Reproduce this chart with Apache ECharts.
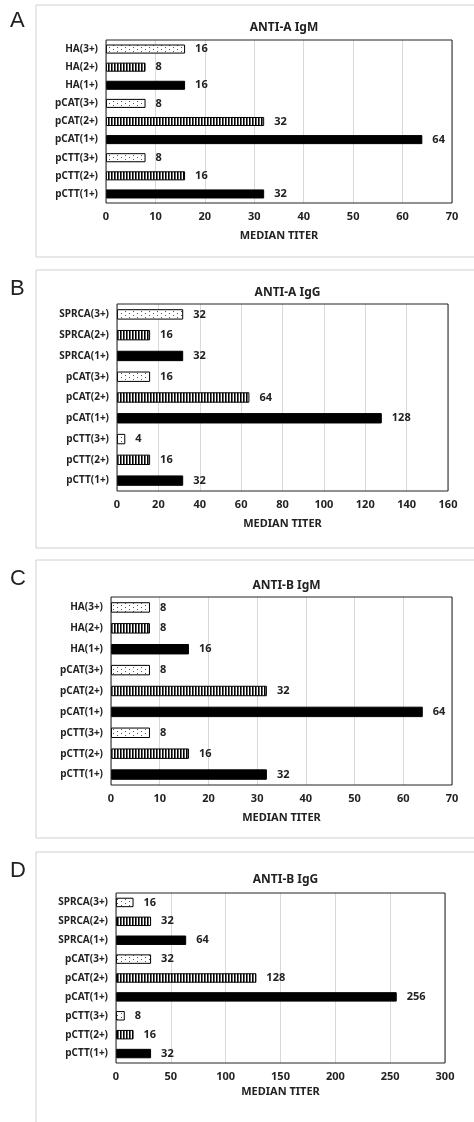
<!DOCTYPE html>
<html><head><meta charset="utf-8">
<script src="https://cdn.jsdelivr.net/npm/echarts@6/dist/echarts.min.js"></script>
<style>html,body{margin:0;padding:0;background:#fff}#c{width:474px;height:1122px}</style>
</head><body><div id="c"></div>
<script>
var titles = ['ANTI-A IgM','ANTI-A IgG','ANTI-B IgM','ANTI-B IgG'];
var letters = ['A','B','C','D'];
var catsA = ['pCTT(1+)','pCTT(2+)','pCTT(3+)','pCAT(1+)','pCAT(2+)','pCAT(3+)','HA(1+)','HA(2+)','HA(3+)'];
var catsB = ['pCTT(1+)','pCTT(2+)','pCTT(3+)','pCAT(1+)','pCAT(2+)','pCAT(3+)','SPRCA(1+)','SPRCA(2+)','SPRCA(3+)'];
var valsA = [32,16,8,64,32,8,16,8,16];
var valsB = [32,16,4,128,64,16,32,16,32];
var valsC = [32,16,8,64,32,8,16,8,8];
var valsD = [32,16,8,256,128,32,64,32,16];
var xMax = [70,160,70,300];
var xInt = [10,20,10,50];

function pat(type){
  var c=document.createElement('canvas');
  var ctx=c.getContext('2d');
  if(type===2){c.width=3;c.height=10;ctx.fillStyle='#fff';ctx.fillRect(0,0,3,10);ctx.fillStyle='#000';ctx.fillRect(0,0,1.6,10);}
  else {c.width=8;c.height=4;ctx.fillStyle='#fff';ctx.fillRect(0,0,8,4);ctx.fillStyle='#555';ctx.fillRect(1,1,1,1);ctx.fillRect(5,3,1,1);}
  return {image:c,repeat:'repeat'};
}
var p2=pat(2), p3=pat(3);
var grids=[{left:106,right:22,top:40,height:163},{left:117,right:26,top:304,height:187},{left:111,right:22,top:597,height:188},{left:116,right:29,top:893,height:170}];
var boxes=[[36,5,445,252],[36,270,445,278],[36,560,445,278],[36,852,445,275]];
var titleY=[17,282,575,869];
var cats=[catsA,catsB,catsA,catsB], vals=[valsA,valsB,valsC,valsD];
var font='"Noto Sans", sans-serif';
var opt={animation:false,grid:grids,xAxis:[],yAxis:[],series:[],title:[],graphic:[]};
for(var i=0;i<4;i++){
  opt.xAxis.push({gridIndex:i,type:'value',min:0,max:xMax[i],interval:xInt[i],name:'MEDIAN TITER',nameLocation:'middle',nameGap:i==3?23:27,
    nameTextStyle:{fontFamily:font,fontWeight:'bold',fontSize:11,color:'#222'},
    axisLine:{show:false},axisTick:{show:false},axisLabel:{fontFamily:font,fontWeight:'bold',fontSize:11,color:'#222',margin:8},
    splitLine:{lineStyle:{color:'#d9d9d9',width:1}}});
  opt.yAxis.push({gridIndex:i,type:'category',data:cats[i],axisTick:{show:false},axisLine:{show:false},
    axisLabel:{fontFamily:font,fontWeight:'bold',fontSize:10,color:'#222',margin:8}});
  var d=vals[i].map(function(v,k){var t=k%3;return {value:v,itemStyle:{color:t===0?'#000':(t===1?p2:p3),borderColor:'#000',borderWidth:1}};});
  opt.series.push({type:'bar',xAxisIndex:i,yAxisIndex:i,data:d,barWidth:'50%',
    label:{show:true,position:'right',distance:10,fontFamily:font,fontWeight:'bold',fontSize:11,color:'#222'}});
  opt.title.push({text:titles[i],left:grids[i].left+ (474-grids[i].left-grids[i].right)/2,textAlign:'center',top:titleY[i],textStyle:{fontFamily:font,fontWeight:'bold',fontSize:12,color:'#222'}});
  var b=boxes[i];
  opt.graphic.push({type:'rect',shape:{x:b[0],y:b[1],width:b[2],height:b[3]},style:{fill:'none',stroke:'#d0d0d0',lineWidth:1},z:-1});
  opt.graphic.push({type:'rect',shape:{x:grids[i].left,y:grids[i].top,width:474-grids[i].left-grids[i].right,height:grids[i].height},style:{fill:'none',stroke:'#222',lineWidth:1},z:10});
  opt.graphic.push({type:'text',x:10,y:b[1]+(i==0?5:8),style:{text:letters[i],font:'22px "Liberation Sans", sans-serif',fill:'#222'}});
}
echarts.init(document.getElementById('c')).setOption(opt);
</script></body></html>
